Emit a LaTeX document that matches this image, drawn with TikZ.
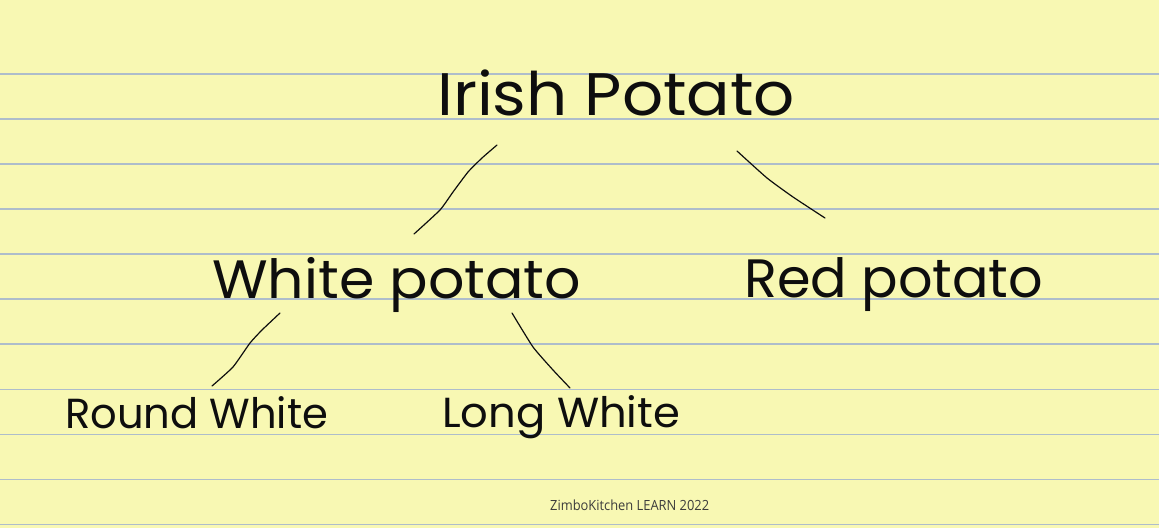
\documentclass[tikz,border=0pt]{standalone}
\usepackage{fontspec}
\usepackage{graphicx}
\setmainfont{Poppins}
\newfontfamily\footfont{Open Sans}
\definecolor{paper}{HTML}{F8F8B3}
\definecolor{rule}{HTML}{AEBDCB}
\definecolor{ink}{HTML}{0E0E0E}
\definecolor{footgray}{HTML}{3C3C3C}
\newcommand\fitw[2]{\resizebox{#1}{\height}{#2}}
\tikzset{
  label/.style={anchor=base west, inner sep=0pt, text=ink},
  conn/.style={draw=ink, line width=1.2pt, line cap=round, line join=round},
  ruling/.style={draw=rule, line width=1.4pt},
}
\begin{document}
\begin{tikzpicture}[x=1pt,y=-1pt]
\fill[paper] (0,0) rectangle (1159,528);
\useasboundingbox (0,0) rectangle (1159,528);
\foreach \k in {0,...,10} {
  \draw[ruling] (0,{74+45.03*\k}) -- (1159,{74+45.03*\k});
}
% labels
\node[label, font=\fontsize{60}{60}\selectfont] (irish) at (437,115) {\fitw{358pt}{Irish Potato}};
\node[label, font=\fontsize{54}{54}\selectfont] (white) at (212,298) {\fitw{369pt}{White potato}};
\node[label, font=\fontsize{54}{54}\selectfont] (red) at (744,297) {\fitw{299pt}{Red potato}};
\node[label, font=\fontsize{42}{42}\selectfont] (round) at (65,428) {\fitw{263pt}{Round White}};
\node[label, font=\fontsize{42}{42}\selectfont] (long) at (442,427) {\fitw{238pt}{Long White}};
\node[anchor=base west, inner sep=0pt, text=footgray, font=\footfont\fontsize{14}{14}\selectfont] (foot) at (550,510.5) {\fitw{159pt}{ZimboKitchen LEARN 2022}};
% connector end points
\coordinate (a1) at (497,145); \coordinate (a2) at (414,234);
\coordinate (b1) at (737,151); \coordinate (b2) at (825,218);
\coordinate (c1) at (280,313); \coordinate (c2) at (212,386);
\coordinate (d1) at (512,313); \coordinate (d2) at (570,388);
\draw[conn] plot[smooth, tension=0.3] coordinates {(a1) (482,158) (468,172) (453,192) (440,210) (a2)};
\draw[conn] plot[smooth, tension=0.3] coordinates {(b1) (767,178) (793,197) (b2)};
\draw[conn] plot[smooth, tension=0.3] coordinates {(c1) (262,330) (250,343) (233,367) (c2)};
\draw[conn] plot[smooth, tension=0.3] coordinates {(d1) (533,347) (553,370) (d2)};
\end{tikzpicture}
\end{document}
